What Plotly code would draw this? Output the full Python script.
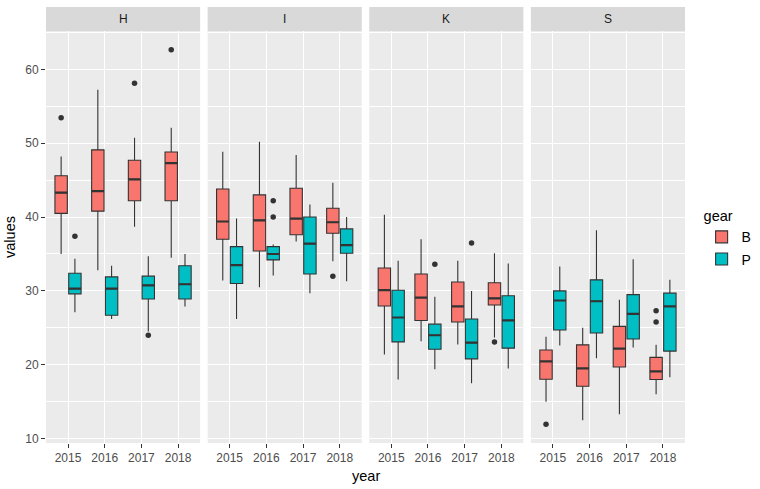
import plotly.graph_objects as go
from plotly.subplots import make_subplots

years = ["2015", "2016", "2017", "2018"]
facets = ["H", "I", "K", "S"]
gears = ["B", "P"]

# five-number summaries per facet (order of years)
B_lower = {"H": [35.0, 32.8, 38.7, 34.5], "I": [31.4, 30.5, 36.7, 34.0],
           "K": [21.4, 23.2, 22.75, 23.7], "S": [15.0, 12.5, 13.3, 16.0]}
B_q1 = {"H": [40.5, 40.8, 42.2, 42.2], "I": [37.0, 35.4, 37.6, 37.8],
        "K": [27.95, 26.0, 25.8, 28.1], "S": [18.05, 17.1, 19.7, 18.0]}
B_median = {"H": [43.3, 43.5, 45.1, 47.3], "I": [39.4, 39.55, 39.8, 39.3],
            "K": [30.1, 29.1, 27.9, 29.0], "S": [20.45, 19.5, 22.2, 19.1]}
B_q3 = {"H": [45.6, 49.1, 47.7, 48.8], "I": [43.8, 43.0, 43.9, 41.2],
        "K": [33.1, 32.3, 31.2, 31.1], "S": [22.0, 22.7, 25.2, 21.0]}
B_upper = {"H": [48.2, 57.25, 50.75, 52.1], "I": [48.85, 50.2, 48.4, 44.65],
           "K": [40.3, 37.0, 34.1, 35.1], "S": [23.8, 25.0, 28.8, 22.7]}

P_lower = {"H": [27.1, 26.2, 24.5, 27.9], "I": [26.2, 32.1, 29.7, 31.3],
           "K": [18.0, 19.4, 17.5, 19.5], "S": [22.6, 20.9, 22.35, 18.3]}
P_q1 = {"H": [29.6, 26.7, 28.9, 28.9], "I": [31.0, 34.2, 32.3, 35.1],
        "K": [23.1, 22.1, 20.8, 22.25], "S": [24.7, 24.3, 23.5, 21.85]}
P_median = {"H": [30.3, 30.3, 30.75, 30.9], "I": [33.5, 35.0, 36.4, 36.2],
            "K": [26.4, 24.0, 23.0, 26.0], "S": [28.7, 28.6, 26.9, 27.9]}
P_q3 = {"H": [32.4, 31.9, 32.0, 33.4], "I": [36.0, 36.0, 40.0, 38.4],
        "K": [30.1, 25.5, 26.2, 29.35], "S": [30.0, 31.5, 29.5, 29.7]}
P_upper = {"H": [34.35, 33.4, 34.7, 35.0], "I": [39.8, 36.3, 41.7, 40.0],
           "K": [34.1, 29.2, 30.0, 33.7], "S": [33.3, 38.2, 34.3, 31.5]}

# outliers
B_out_x = {"H": ["2015", "2017", "2018"], "I": ["2018"], "K": ["2018"],
           "S": ["2015", "2018", "2018"]}
B_out_y = {"H": [53.45, 58.1, 62.65], "I": [32.0], "K": [23.1],
           "S": [11.95, 27.3, 25.8]}
P_out_x = {"H": ["2015", "2017"], "I": ["2016", "2016"], "K": ["2016", "2017"], "S": []}
P_out_y = {"H": [37.4, 24.0], "I": [42.2, 40.0], "K": [33.6, 36.5], "S": []}

colors = {"B": "#F8766D", "P": "#00BFC4"}
stats = {
    "B": (B_lower, B_q1, B_median, B_q3, B_upper, B_out_x, B_out_y),
    "P": (P_lower, P_q1, P_median, P_q3, P_upper, P_out_x, P_out_y),
}

W, H = 760, 489
L, R, T, Bm = 46, 75, 31, 46
plot_w = W - L - R
plot_h = H - T - Bm

fig = make_subplots(rows=1, cols=4, shared_yaxes=True,
                    horizontal_spacing=7.5 / plot_w)

FONT = "Liberation Sans, Arial, sans-serif"

for i, f in enumerate(facets):
    col = i + 1
    for g in gears:
        lo, q1, md, q3, up, ox, oy = stats[g]
        fig.add_trace(go.Box(
            x=years, q1=q1[f], median=md[f], q3=q3[f],
            lowerfence=lo[f], upperfence=up[f],
            name=g, legendgroup=g, showlegend=(i == 0),
            offsetgroup=g, fillcolor=colors[g],
            line=dict(color="#333333", width=1.1),
            whiskerwidth=0, boxpoints=False, hoverinfo="skip",
        ), row=1, col=col)
        # thicker median bar (ggplot style)
        fig.add_trace(go.Box(
            x=years, q1=md[f], median=md[f], q3=md[f],
            lowerfence=md[f], upperfence=md[f],
            name=g, legendgroup=g, showlegend=False,
            offsetgroup=g, fillcolor="rgba(0,0,0,0)",
            line=dict(color="#333333", width=2.2),
            whiskerwidth=0, boxpoints=False, hoverinfo="skip",
        ), row=1, col=col)
        if len(oy[f]) > 0:
            fig.add_trace(go.Box(
                x=ox[f], y=oy[f], name=g, legendgroup=g, showlegend=False,
                offsetgroup=g, fillcolor="rgba(0,0,0,0)",
                line=dict(color="rgba(0,0,0,0)", width=0),
                whiskerwidth=0, boxpoints="all", jitter=0, pointpos=0,
                marker=dict(color="#333333", size=5.5), hoverinfo="skip",
            ), row=1, col=col)

fig.update_layout(
    width=W, height=H,
    margin=dict(l=L, r=R, t=T, b=Bm, autoexpand=False),
    paper_bgcolor="white", plot_bgcolor="#EBEBEB",
    boxmode="group", boxgap=0.25, boxgroupgap=0.1,
    font=dict(family=FONT, color="#4D4D4D", size=12),
    legend=dict(
        title=dict(text="gear", font=dict(size=14.5, color="#000000")),
        x=1.026, xanchor="left", y=0.584, yanchor="top",
        font=dict(size=14, color="#000000"),
        bgcolor="rgba(0,0,0,0)", tracegroupgap=1,
    ),
)

for i in range(4):
    fig.update_xaxes(
        type="category", categoryorder="array", categoryarray=years,
        range=[-0.6, 3.6], showgrid=True, gridcolor="white", gridwidth=1.1,
        ticks="outside", ticklen=4, tickcolor="#333333",
        tickfont=dict(size=12, color="#4D4D4D"), zeroline=False,
        showline=False, automargin=False, row=1, col=i + 1,
    )
    fig.update_yaxes(
        range=[9.41, 65.19], dtick=10, tick0=0, showgrid=True,
        gridcolor="white", gridwidth=1.1, zeroline=False,
        minor=dict(dtick=5, tick0=5, showgrid=True, gridcolor="white", gridwidth=0.55),
        ticks="outside" if i == 0 else "", ticklen=4, tickcolor="#333333",
        tickfont=dict(size=12, color="#4D4D4D"), showline=False,
        automargin=False, row=1, col=i + 1,
    )

fig.update_yaxes(title=dict(text="values", font=dict(size=14.5, color="#000000"), standoff=6),
                 row=1, col=1)

# strips
strip_h = 24 / plot_h
for i, f in enumerate(facets):
    xa = fig.layout["xaxis" if i == 0 else f"xaxis{i+1}"]
    d0, d1 = xa.domain
    fig.add_shape(type="rect", xref="paper", yref="paper",
                  x0=d0, x1=d1, y0=1.0, y1=1.0 + strip_h,
                  fillcolor="#D9D9D9", line=dict(width=0), layer="below")
    fig.add_annotation(text=f, xref="paper", yref="paper",
                       x=(d0 + d1) / 2, y=1.0 + strip_h / 2,
                       showarrow=False, font=dict(size=12, color="#1A1A1A"),
                       xanchor="center", yanchor="middle")

fig.add_annotation(text="year", xref="paper", yref="paper", x=0.5, y=-0.08,
                   showarrow=False, yanchor="middle",
                   font=dict(size=14.5, color="#000000"))

fig.write_html("out.html", config={"displayModeBar": False},
               post_script="document.body.style.margin='0';document.body.style.overflow='hidden';")
